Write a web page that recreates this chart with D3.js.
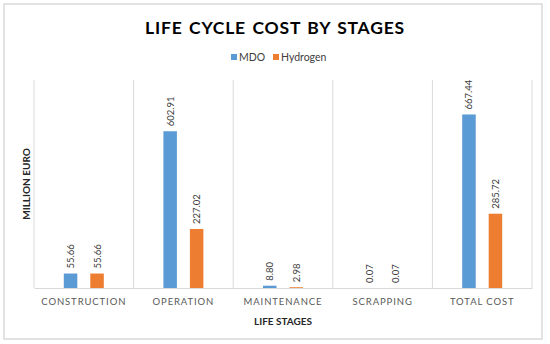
<!DOCTYPE html>
<html><head><meta charset="utf-8">
<script src="https://cdn.jsdelivr.net/npm/d3@7"></script>
<style>
body{margin:0;background:#fff;}
svg{display:block;font-family:Lato,"Open Sans",sans-serif;}
</style></head>
<body><svg id="c" width="550" height="344"></svg>
<script>
const categories = ["CONSTRUCTION","OPERATION","MAINTENANCE","SCRAPPING","TOTAL COST"];
const seriesNames = ["MDO","Hydrogen"];
const mdoValues = [55.66, 602.91, 8.80, 0.07, 667.44];
const hydrogenValues = [55.66, 227.02, 2.98, 0.07, 285.72];
const colors = ["#5B9BD5","#ED7D31"];
const yDomain = [0, 800];

const svg = d3.select("#c");
const m = {left:34, right:532, top:80, bottom:288};

svg.append("rect").attr("x",4).attr("y",4).attr("width",538).attr("height",335)
  .attr("fill","#fff").attr("stroke","#d9d9d9").attr("stroke-width",1.5);

const x0 = d3.scaleBand().domain(categories).range([m.left,m.right]).padding(0);
const x1 = d3.scaleBand().domain(seriesNames).range([0,x0.bandwidth()]).paddingInner(0.49).paddingOuter(1.125);
const y = d3.scaleLinear().domain(yDomain).range([m.bottom,m.top]);

// separators
const bounds = categories.map(c=>x0(c)).concat([m.right]);
svg.append("g").selectAll("line").data(bounds).join("line")
  .attr("x1",d=>d).attr("x2",d=>d).attr("y1",m.top).attr("y2",m.bottom)
  .attr("stroke","#d9d9d9").attr("stroke-width",1);

const data = categories.map((c,i)=>({cat:c, vals:[
  {s:"MDO", v:mdoValues[i], col:colors[0]},
  {s:"Hydrogen", v:hydrogenValues[i], col:colors[1]}]}));

const g = svg.append("g").selectAll("g").data(data).join("g")
  .attr("transform",d=>`translate(${x0(d.cat)},0)`);
g.selectAll("rect").data(d=>d.vals).join("rect")
  .attr("x",d=>x1(d.s)).attr("width",x1.bandwidth())
  .attr("y",d=>y(d.v)).attr("height",d=>y(0)-y(d.v)).attr("fill",d=>d.col);
g.selectAll("text").data(d=>d.vals).join("text")
  .attr("transform",d=>`translate(${x1(d.s)+x1.bandwidth()/2+3.5},${y(d.v)-5}) rotate(-90)`)
  .attr("font-size",9.5).attr("fill","#404040").attr("text-anchor","start")
  .text(d=>d.v.toFixed(2));

// x axis
const xAxis = d3.axisBottom(x0).tickSize(0).tickPadding(8);
const ax = svg.append("g").attr("transform",`translate(0,${m.bottom})`).call(xAxis);
ax.select(".domain").attr("stroke","#d9d9d9");
ax.selectAll("text").attr("font-family","Lato,sans-serif").attr("font-size",9.5)
  .attr("fill","#595959").attr("letter-spacing","0.9px").attr("dy","0.9em");

// titles
svg.append("text").attr("x",275).attr("y",34).attr("text-anchor","middle")
  .attr("font-size",17.5).attr("font-weight","bold").attr("letter-spacing","0.8px")
  .attr("word-spacing","1.5px").attr("fill","#000").text("LIFE CYCLE COST BY STAGES");

svg.append("text").attr("x",(m.left+m.right)/2).attr("y",325).attr("text-anchor","middle")
  .attr("font-size",10).attr("font-weight","bold").attr("fill","#262626").text("LIFE STAGES");

svg.append("text").attr("transform",`translate(30,${(m.top+m.bottom)/2}) rotate(-90)`)
  .attr("text-anchor","middle").attr("font-size",10).attr("font-weight","bold")
  .attr("fill","#262626").text("MILLION EURO");

// legend
const legendX = [231, 273];
const lg = svg.append("g").selectAll("g").data(seriesNames).join("g")
  .attr("transform",(d,i)=>`translate(${legendX[i]},57)`);
lg.append("rect").attr("x",0).attr("y",-3).attr("width",6).attr("height",6).attr("fill",(d,i)=>colors[i]);
lg.append("text").attr("x",8).attr("y",3.5).attr("font-size",10.5).attr("fill","#404040").text(d=>d);
</script></body></html>
